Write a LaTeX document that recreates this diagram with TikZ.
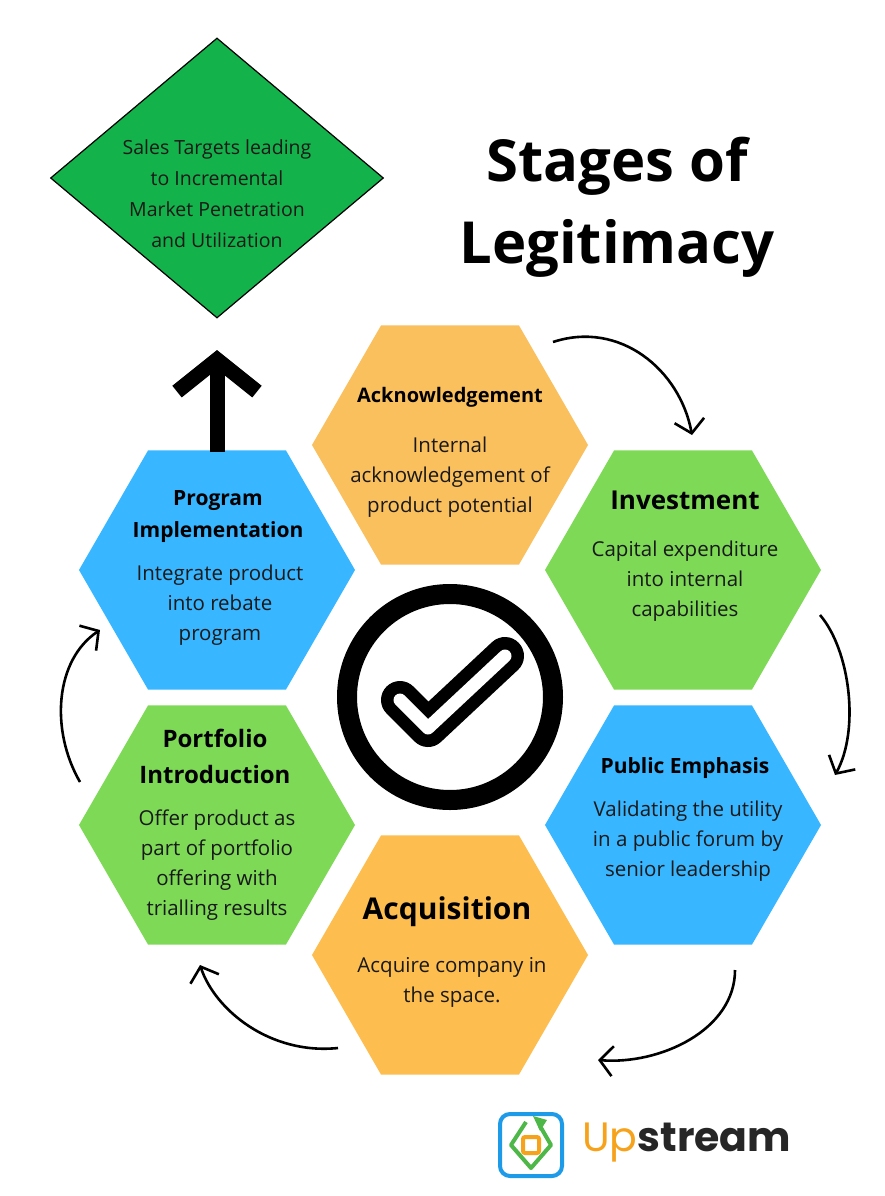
\documentclass[tikz,border=0pt]{standalone}
\usepackage{fontspec}
\setmainfont{Open Sans}
\newfontfamily\logofont{Poppins}
\usetikzlibrary{shapes.geometric,arrows.meta}
\definecolor{hexorange}{HTML}{FBC05E}
\definecolor{hexgold}{HTML}{FDBD4F}
\definecolor{hexgreen}{HTML}{7ED957}
\definecolor{hexblue}{HTML}{38B6FF}
\definecolor{diagreen}{HTML}{13B24B}
\definecolor{logoorange}{HTML}{F7A21B}
\definecolor{logogray}{HTML}{262626}
\definecolor{logoblue}{HTML}{1E9BE8}
\definecolor{logogreen}{HTML}{4DB848}
\begin{document}
\begin{tikzpicture}[x=1pt,y=-1pt,
  hex/.style={regular polygon,regular polygon sides=6,shape border rotate=0,minimum size=276pt,inner sep=0pt,draw=none,fill=#1},
  body/.style={align=center,font=\fontsize{20.5}{30}\selectfont,text=black!90},
  head/.style={align=center,font=\bfseries\fontsize{#1}{32}\selectfont},
  curve/.style={line width=2.6pt,-{Straight Barb[length=13pt,width=30pt,line width=2.6pt]}}]
\useasboundingbox (0,0) rectangle (884,1196);
\fill[white] (0,0) rectangle (884,1196);
% diamond
\node[diamond,draw=black,line width=1.2pt,fill=diagreen,minimum width=333pt,minimum height=280pt,inner sep=0pt] (goal) at (217,178) {};
\node[body,font=\fontsize{19.5}{31}\selectfont] at (217,194) {Sales Targets leading\\to Incremental\\Market Penetration\\and Utilization};
% hexes
\node[hex=hexorange] (ack) at (450,445) {};
\node[hex=hexgreen] (inv) at (683,570) {};
\node[hex=hexblue] (pub) at (683,825) {};
\node[hex=hexgold] (acq) at (450,955) {};
\node[hex=hexgreen] (port) at (217,825) {};
\node[hex=hexblue] (prog) at (217,570) {};
% texts
\node[head=20] at (450,397) {Acknowledgement};
\node[body,anchor=north] at (450,433) {Internal\\acknowledgement of\\product potential};
\node[head=26] at (685,500) {Investment};
\node[body,anchor=north] at (685,537) {Capital expenditure\\into internal\\capabilities};
\node[head=21] at (685,768) {Public Emphasis};
\node[body,anchor=north] at (688,797) {Validating the utility\\in a public forum by\\senior leadership};
\node[head=30] at (447,912) {Acquisition};
\node[body,anchor=north] at (452,954) {Acquire company in\\the space.};
\node[head=24,font=\bfseries\fontsize{24}{36}\selectfont] at (215,756) {Portfolio\\Introduction};
\node[body,anchor=north] at (217,806) {Offer product as\\part of portfolio\\offering with\\trialling results};
\node[head=21,font=\bfseries\fontsize{21}{32}\selectfont] at (218,517) {Program\\Implementation};
\node[body,anchor=north] at (220,561) {Integrate product\\into rebate\\program};
% title
\node[align=center,font=\bfseries\fontsize{58}{82}\selectfont] (title) at (617,207) {Stages of\\Legitimacy};
% up arrow
\coordinate (upA) at (217,452);
\draw[line width=15pt,-{Straight Barb[length=32pt,width=80pt,line width=15pt]}] (upA) -- (goal.south |- 0,350);
% check
\node[circle,draw=black,line width=20pt,minimum size=206pt,inner sep=0pt] (chk) at (450,697) {};
\coordinate (c1) at (400,700); \coordinate (c2) at (428,728); \coordinate (c3) at (505,656);
\draw[line width=38pt,line cap=round,line join=round] (c1)--(c2)--(c3);
\draw[white,line width=13pt,line cap=round,line join=round] (c1)--(c2)--(c3);
% curved arrows
\coordinate (a1s) at (553,342); \coordinate (a1e) at (692,435);
\draw[curve] (a1s) .. controls (620,320) and (680,370) .. (a1e);
\coordinate (a2s) at (820,615); \coordinate (a2e) at (835,775);
\draw[curve] (a2s) .. controls (850,650) and (860,730) .. (a2e);
\coordinate (a3s) at (735,970); \coordinate (a3e) at (598,1060);
\draw[curve] (a3s) .. controls (735,1030) and (660,1065) .. (a3e);
\coordinate (a4s) at (338,1048); \coordinate (a4e) at (200,965);
\draw[curve] (a4s) .. controls (270,1055) and (215,1010) .. (a4e);
\coordinate (a5s) at (80,782); \coordinate (a5e) at (100,630);
\draw[curve] (a5s) .. controls (50,730) and (55,660) .. (a5e);
% logo
\node[draw=logoblue,line width=4pt,rounded corners=10pt,minimum size=62pt,fill=white] (logo) at (531,1145) {};
\draw[logogreen,line width=4pt,line join=round] (526,1122) -- (511,1145) -- (531,1168) -- (551,1145) -- (540,1126);
\fill[logogreen] (533,1116) -- (547,1120) -- (540,1131) -- cycle;
\draw[logoorange,line width=4pt,rounded corners=2pt] (523,1137) rectangle (539,1153);
\node[anchor=west,font=\logofont\fontsize{41}{41}\selectfont,inner sep=0pt] (brand) at (582,1143) {\textcolor{logoorange}{Up}\textcolor{logogray}{\bfseries stream}};
\end{tikzpicture}
\end{document}
